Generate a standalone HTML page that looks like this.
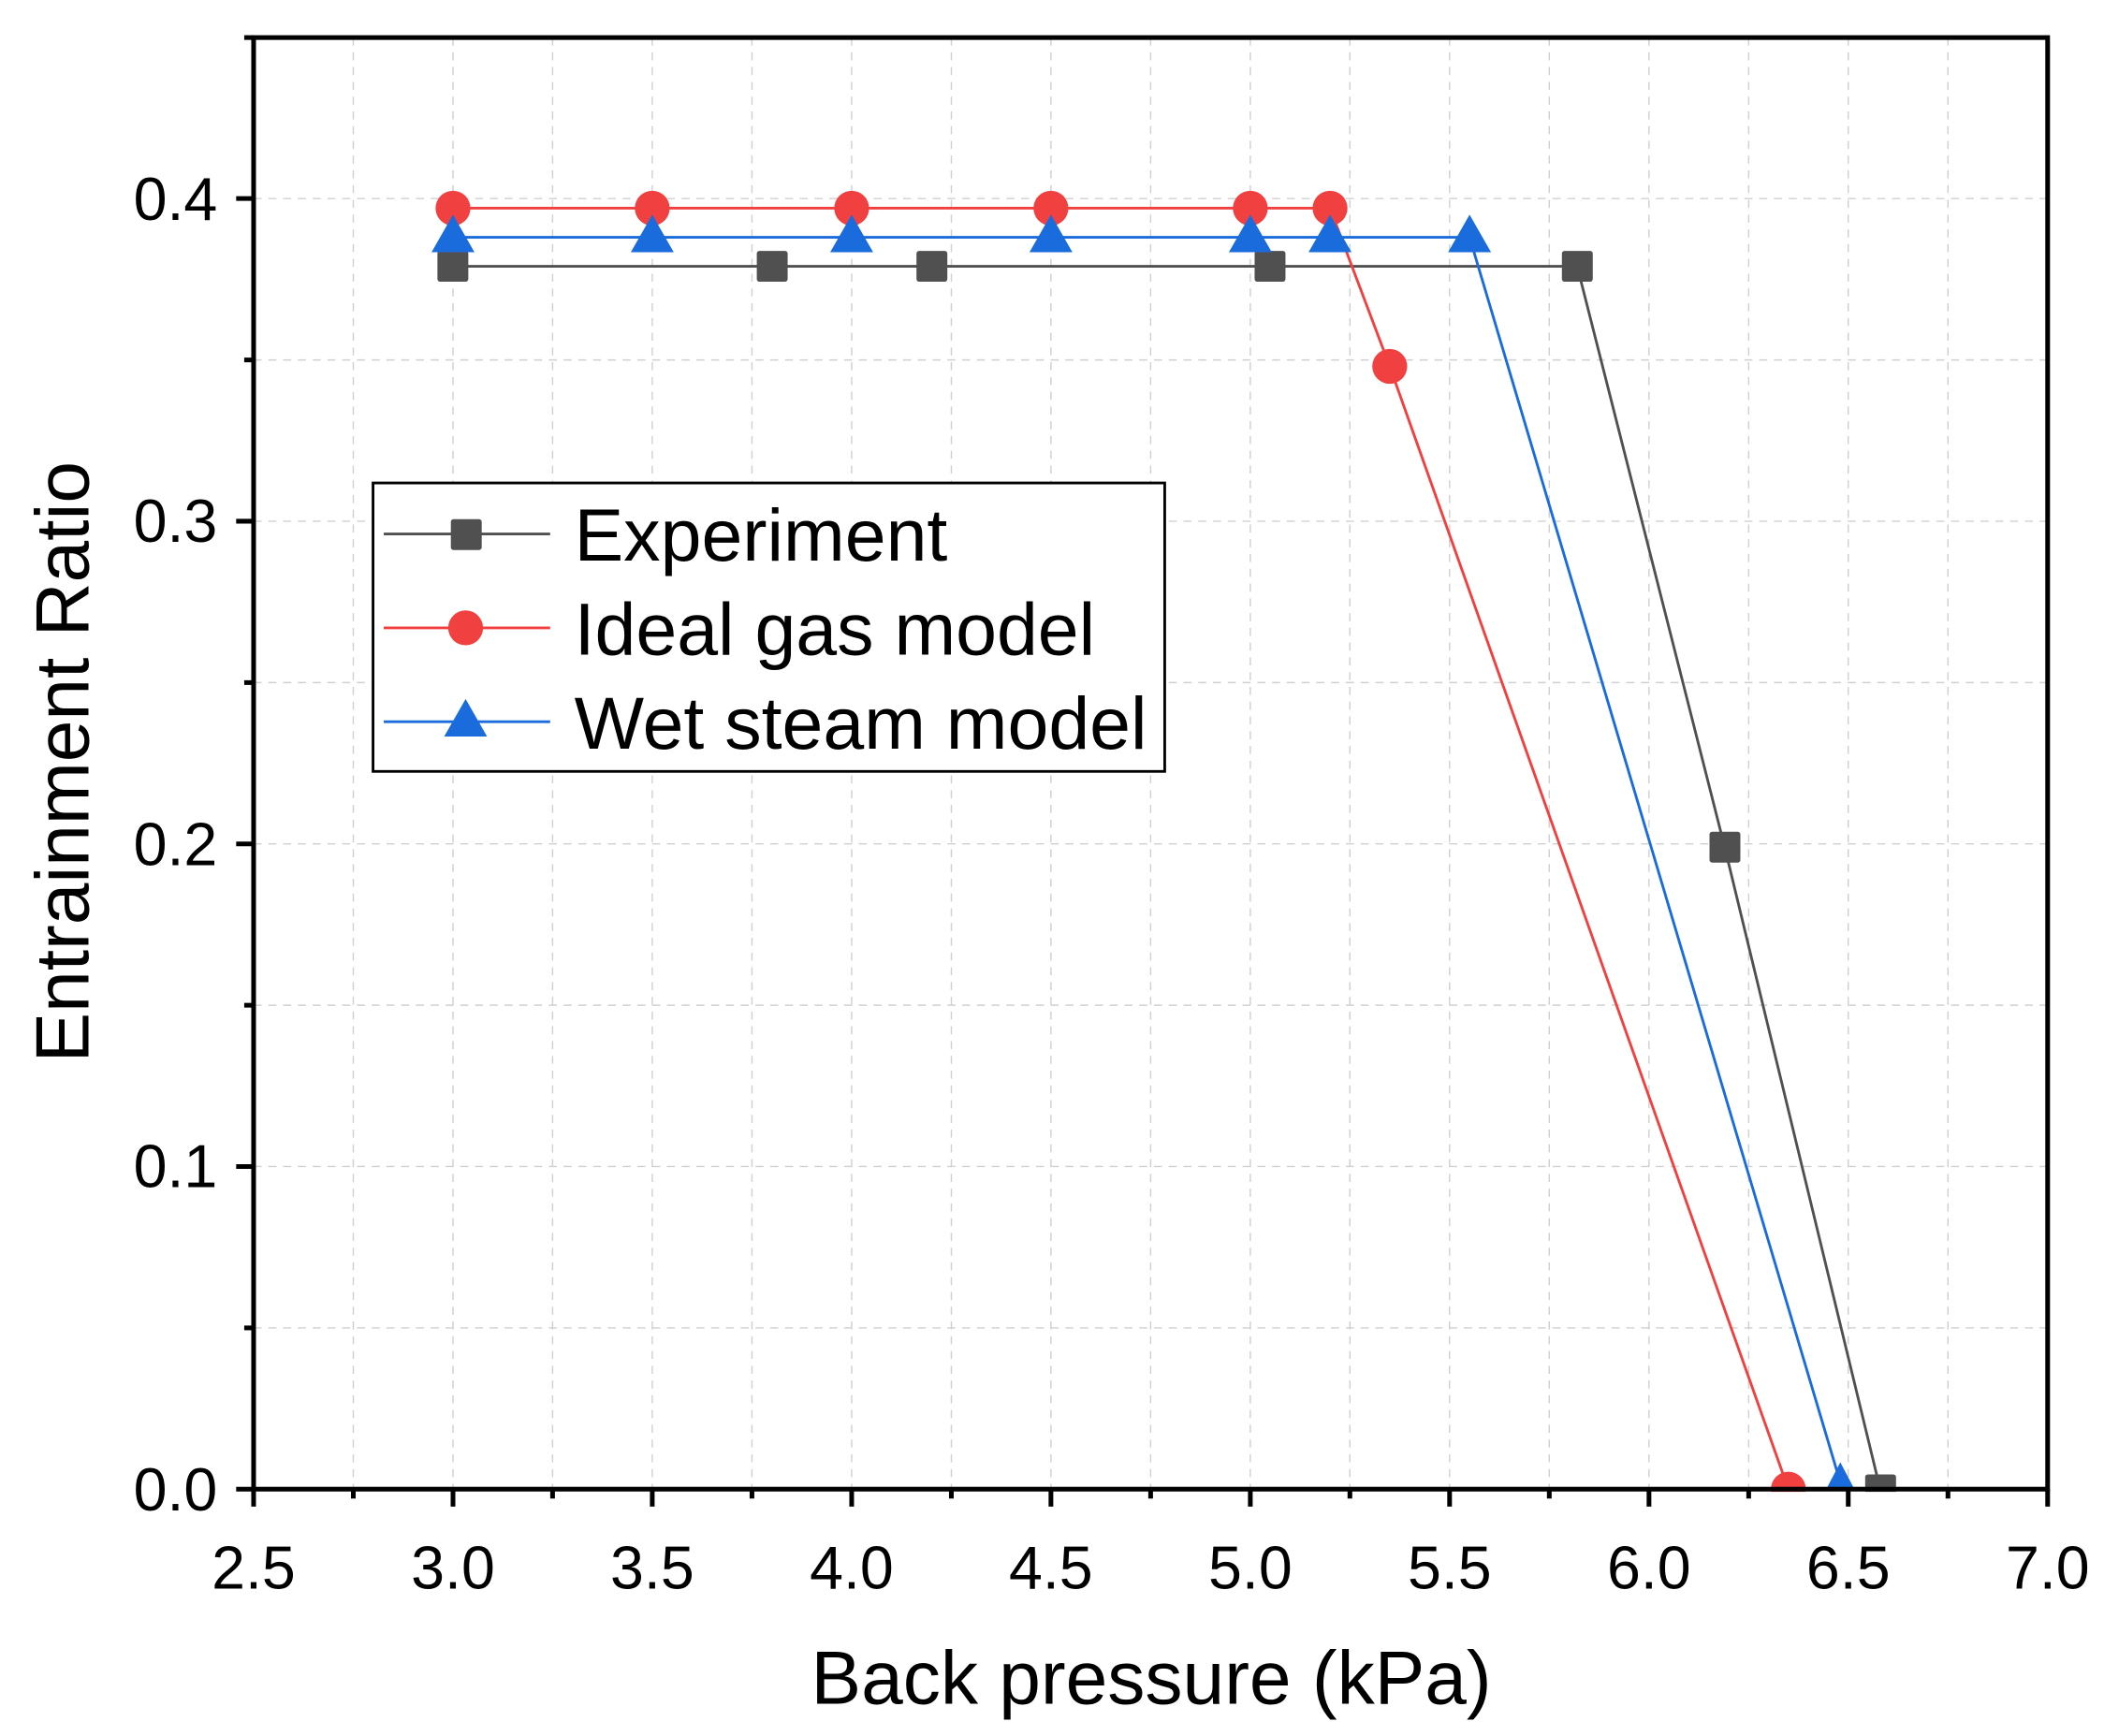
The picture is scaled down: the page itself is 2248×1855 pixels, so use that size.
<!DOCTYPE html>
<html><head><meta charset="utf-8"><style>
html,body{margin:0;padding:0;background:#fff;}
svg{display:block;}
text{font-family:"Liberation Sans",Arial,sans-serif;fill:#000;}
</style></head><body>
<svg width="2248" height="1855" viewBox="0 0 1568 1294" preserveAspectRatio="none" xmlns="http://www.w3.org/2000/svg">
<rect width="1568" height="1294" fill="#fff"/>
<g stroke="#d0d0d0" stroke-width="1" stroke-dasharray="6,5">
<line x1="263.3" y1="28" x2="263.3" y2="1110"/><line x1="337.6" y1="28" x2="337.6" y2="1110"/><line x1="411.8" y1="28" x2="411.8" y2="1110"/><line x1="486.1" y1="28" x2="486.1" y2="1110"/><line x1="560.4" y1="28" x2="560.4" y2="1110"/><line x1="634.7" y1="28" x2="634.7" y2="1110"/><line x1="709" y1="28" x2="709" y2="1110"/><line x1="783.2" y1="28" x2="783.2" y2="1110"/><line x1="857.5" y1="28" x2="857.5" y2="1110"/><line x1="931.8" y1="28" x2="931.8" y2="1110"/><line x1="1006" y1="28" x2="1006" y2="1110"/><line x1="1080.3" y1="28" x2="1080.3" y2="1110"/><line x1="1154.6" y1="28" x2="1154.6" y2="1110"/><line x1="1228.9" y1="28" x2="1228.9" y2="1110"/><line x1="1303.2" y1="28" x2="1303.2" y2="1110"/><line x1="1377.4" y1="28" x2="1377.4" y2="1110"/><line x1="1451.7" y1="28" x2="1451.7" y2="1110"/>
<line x1="189" y1="989.8" x2="1526" y2="989.8"/><line x1="189" y1="869.5" x2="1526" y2="869.5"/><line x1="189" y1="749.3" x2="1526" y2="749.3"/><line x1="189" y1="629" x2="1526" y2="629"/><line x1="189" y1="508.8" x2="1526" y2="508.8"/><line x1="189" y1="388.5" x2="1526" y2="388.5"/><line x1="189" y1="268.3" x2="1526" y2="268.3"/><line x1="189" y1="148" x2="1526" y2="148"/>
</g>
<polyline fill="none" stroke="#505050" stroke-width="2" points="337.6,198.5 575.2,198.5 694.1,198.5 946.6,198.5 1175.4,198.5 1285.3,631.4 1401.2,1110"/>
<polyline fill="none" stroke="#F04040" stroke-width="2" points="337.6,155.2 486.1,155.2 634.7,155.2 783.2,155.2 931.8,155.2 991.2,155.2 1035.7,273.1 1332.8,1110"/>
<polyline fill="none" stroke="#1A6BDB" stroke-width="2" points="337.6,176.9 486.1,176.9 634.7,176.9 783.2,176.9 931.8,176.9 991.2,176.9 1095.2,176.9 1371.5,1105"/>
<g fill="#505050">
<rect x="326" y="187" width="23" height="23" rx="2"/><rect x="564" y="187" width="23" height="23" rx="2"/><rect x="683" y="187" width="23" height="23" rx="2"/><rect x="935" y="187" width="23" height="23" rx="2"/><rect x="1164" y="187" width="23" height="23" rx="2"/><rect x="1274" y="620" width="23" height="23" rx="2"/><rect x="1390" y="1099" width="23" height="23" rx="2"/>
</g>
<g fill="#F04040">
<circle cx="337.6" cy="155.2" r="13"/><circle cx="486.1" cy="155.2" r="13"/><circle cx="634.7" cy="155.2" r="13"/><circle cx="783.2" cy="155.2" r="13"/><circle cx="931.8" cy="155.2" r="13"/><circle cx="991.2" cy="155.2" r="13"/><circle cx="1035.7" cy="273.1" r="13"/><circle cx="1332.8" cy="1110" r="13"/>
</g>
<g fill="#1A6BDB">
<polygon points="337.6,160 321.6,188 353.6,188"/><polygon points="486.1,160 470.1,188 502.1,188"/><polygon points="634.7,160 618.7,188 650.7,188"/><polygon points="783.2,160 767.2,188 799.2,188"/><polygon points="931.8,160 915.8,188 947.8,188"/><polygon points="991.2,160 975.2,188 1007.2,188"/><polygon points="1095.2,160 1079.2,188 1111.2,188"/><polygon points="1371.5,1090 1361,1110 1382,1110"/>
</g>
<rect x="180" y="1112" width="1360" height="40" fill="#fff"/>
<g stroke="#000" stroke-width="3.5">
<line x1="189" y1="1110" x2="189" y2="1123"/><line x1="337.6" y1="1110" x2="337.6" y2="1123"/><line x1="486.1" y1="1110" x2="486.1" y2="1123"/><line x1="634.7" y1="1110" x2="634.7" y2="1123"/><line x1="783.2" y1="1110" x2="783.2" y2="1123"/><line x1="931.8" y1="1110" x2="931.8" y2="1123"/><line x1="1080.3" y1="1110" x2="1080.3" y2="1123"/><line x1="1228.9" y1="1110" x2="1228.9" y2="1123"/><line x1="1377.4" y1="1110" x2="1377.4" y2="1123"/><line x1="1526" y1="1110" x2="1526" y2="1123"/>
<line x1="263.3" y1="1110" x2="263.3" y2="1117"/><line x1="411.8" y1="1110" x2="411.8" y2="1117"/><line x1="560.4" y1="1110" x2="560.4" y2="1117"/><line x1="709" y1="1110" x2="709" y2="1117"/><line x1="857.5" y1="1110" x2="857.5" y2="1117"/><line x1="1006" y1="1110" x2="1006" y2="1117"/><line x1="1154.6" y1="1110" x2="1154.6" y2="1117"/><line x1="1303.2" y1="1110" x2="1303.2" y2="1117"/><line x1="1451.7" y1="1110" x2="1451.7" y2="1117"/>
<line x1="176" y1="1110" x2="189" y2="1110"/><line x1="176" y1="869.5" x2="189" y2="869.5"/><line x1="176" y1="629" x2="189" y2="629"/><line x1="176" y1="388.5" x2="189" y2="388.5"/><line x1="176" y1="148" x2="189" y2="148"/>
<line x1="182" y1="989.8" x2="189" y2="989.8"/><line x1="182" y1="749.3" x2="189" y2="749.3"/><line x1="182" y1="508.8" x2="189" y2="508.8"/><line x1="182" y1="268.3" x2="189" y2="268.3"/><line x1="182" y1="28" x2="189" y2="28"/>
</g>
<rect x="189" y="28" width="1337" height="1082" fill="none" stroke="#000" stroke-width="3.5"/>
<g font-size="45" text-anchor="middle">
<text x="189" y="1184">2.5</text><text x="337.6" y="1184">3.0</text><text x="486.1" y="1184">3.5</text><text x="634.7" y="1184">4.0</text><text x="783.2" y="1184">4.5</text><text x="931.8" y="1184">5.0</text><text x="1080.3" y="1184">5.5</text><text x="1228.9" y="1184">6.0</text><text x="1377.4" y="1184">6.5</text><text x="1526" y="1184">7.0</text>
</g>
<g font-size="45" text-anchor="end">
<text x="162" y="1126">0.0</text><text x="162" y="885">0.1</text><text x="162" y="645">0.2</text><text x="162" y="404">0.3</text><text x="162" y="164">0.4</text>
</g>
<text x="858" y="1270" font-size="56" text-anchor="middle">Back pressure (kPa)</text>
<text transform="translate(66,568) rotate(-90)" font-size="56" text-anchor="middle">Entrainment Ratio</text>
<rect x="278" y="360" width="590" height="215" fill="#fff" stroke="#000" stroke-width="2"/>
<line x1="286" y1="398" x2="410" y2="398" stroke="#505050" stroke-width="2"/>
<rect x="336" y="387" width="23" height="23" rx="2" fill="#505050"/>
<line x1="286" y1="468" x2="410" y2="468" stroke="#F04040" stroke-width="2"/>
<circle cx="347" cy="468" r="13" fill="#F04040"/>
<line x1="286" y1="538" x2="410" y2="538" stroke="#1A6BDB" stroke-width="2"/>
<polygon points="347,521 331,549 363,549" fill="#1A6BDB"/>
<g font-size="55">
<text x="428" y="418">Experiment</text><text x="428" y="488">Ideal gas model</text><text x="428" y="558">Wet steam model</text>
</g>
</svg>
</body></html>
